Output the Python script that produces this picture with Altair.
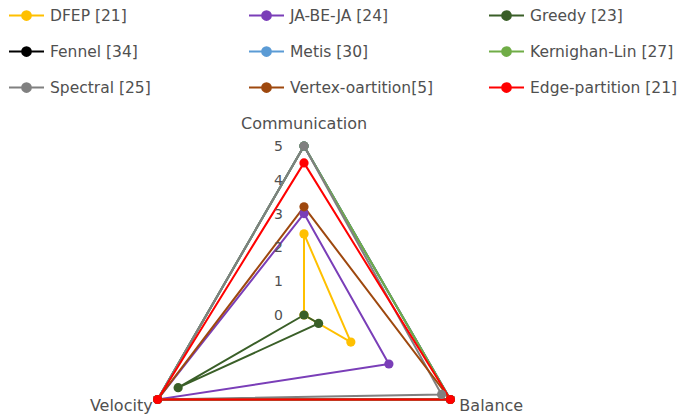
import altair as alt
import pandas as pd

# ---------------- data ----------------
series = ["DFEP [21]", "JA-BE-JA [24]", "Greedy [23]",
          "Fennel [34]", "Metis [30]", "Kernighan-Lin [27]",
          "Spectral [25]", "Vertex-oartition[5]", "Edge-partition [21]"]
colors = ["#FFC000", "#7A3EB8", "#3A5F28",
          "#000000", "#5B9BD5", "#70AD47",
          "#808080", "#9E480E", "#FF0000"]
axes_names = ["Communication", "Balance", "Velocity"]
axes_angles = [90, -30, 210]          # degrees, direction of each spoke
communication = [2.4, 3.0, 0.0, 5, 5, 5, 5, 3.2, 4.5]
balance       = [1.6, 2.9, 0.5, 5, 5, 5, 4.7, 5, 5]
velocity      = [0.0, 5, 4.3, 5, 5, 5, 5, 5, 5]
ticks = [0, 1, 2, 3, 4, 5]
rmax = 5

rows = []
for i, s in enumerate(series):
    vals = [communication[i], balance[i], velocity[i], communication[i]]
    for k, v in enumerate(vals):
        a = k % 3
        rows.append({"series": s, "axis": axes_names[a], "angle": axes_angles[a],
                     "order": k, "value": v})
df = pd.DataFrame(rows)
axes_df = pd.DataFrame({"axis": axes_names, "angle": axes_angles, "value": [rmax] * 3})
ticks_df = pd.DataFrame({"tick": ticks})

# ---------------- layout ----------------
W, H = 669, 406
CX, CY = 296, 307      # centre of the radar in chart pixels
UNIT = 33.8            # pixels per value unit
xdom = [-CX / UNIT, (W - CX) / UNIT]
ydom = [-(H - CY) / UNIT, CY / UNIT]
FONT = "DejaVu Sans"
TXT = "#505050"
FS = 16

xs = alt.Scale(domain=xdom, nice=False, zero=False)
ys = alt.Scale(domain=ydom, nice=False, zero=False)
X = alt.X("x:Q", scale=xs, axis=None)
Y = alt.Y("y:Q", scale=ys, axis=None)

polar = dict(x="datum.value * cos(datum.angle * PI / 180)",
             y="datum.value * sin(datum.angle * PI / 180)")

legend_path = ("M-1,0H1M-0.25,0A0.25,0.25,0,1,0,0.25,0"
               "A0.25,0.25,0,1,0,-0.25,0Z")

def make_legend():
    return alt.Legend(
        title=None, orient="none", legendX=0, legendY=-11,
        direction="horizontal", columns=3, gridAlign="all",
        columnPadding=47, rowPadding=9,
        symbolType=legend_path, symbolSize=1225, symbolStrokeWidth=2,
        symbolOpacity=1,
        labelFont=FONT, labelFontSize=15.5, labelColor=TXT, labelOffset=5,
        labelLimit=400,
    )

scale = alt.Scale(domain=series, range=colors)

lines = alt.Chart(df).transform_calculate(**polar).mark_line(strokeWidth=2).encode(
    x=X, y=Y,
    stroke=alt.Stroke("series:N", scale=scale, sort=series, legend=make_legend()),
    detail="series:N",
    order="order:Q",
)
points = alt.Chart(df).transform_filter("datum.order < 3").transform_calculate(**polar).mark_circle(
    size=85, opacity=1).encode(
    x=X, y=Y,
    fill=alt.Fill("series:N", scale=scale, sort=series, legend=make_legend()),
)

tick_text = alt.Chart(ticks_df).transform_calculate(x="0", y="datum.tick").mark_text(
    align="right", baseline="middle", dx=-21, dy=1, font=FONT, fontSize=14, color=TXT
).encode(x=X, y=Y, text="tick:Q")

def axis_label(name, align, dx, dy):
    return alt.Chart(axes_df).transform_filter(f"datum.axis == '{name}'").transform_calculate(
        **polar).mark_text(align=align, baseline="middle", dx=dx, dy=dy,
                           font=FONT, fontSize=FS, color=TXT).encode(x=X, y=Y, text="axis:N")

labels = (axis_label("Communication", "center", 0, -22)
          + axis_label("Balance", "left", 9, 6)
          + axis_label("Velocity", "right", -5, 6))

chart = alt.layer(lines, points, tick_text, labels).properties(
    width=W, height=H, autosize=alt.AutoSizeParams(type="none"), padding=0,
    background="white",
).configure_view(stroke=None)

chart.save("out.html", embed_options={"renderer": "svg", "actions": False})
